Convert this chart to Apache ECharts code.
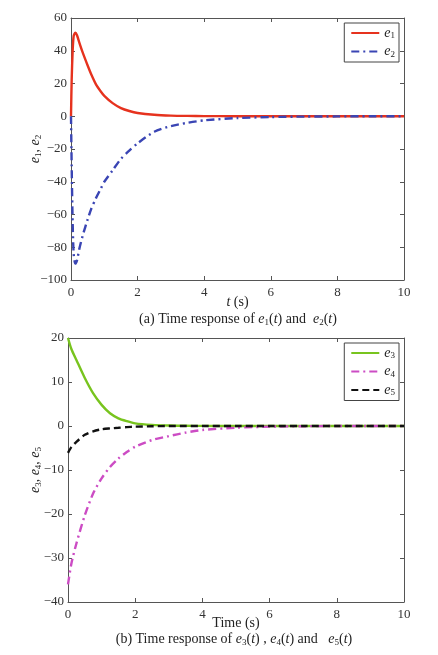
<!DOCTYPE html>
<html>
<head>
<meta charset="utf-8">
<script src="https://cdn.jsdelivr.net/npm/echarts@6/dist/echarts.min.js"></script>
<style>html,body{margin:0;padding:0;background:#fff}#c{width:438px;height:655px}</style>
</head>
<body>
<div id="c"></div>
<script>
// Panel (a)
const tA = [0, 0.02, 0.05, 0.08, 0.13, 0.18, 0.25, 0.35, 0.5, 0.6, 0.75, 0.9, 1, 1.25, 1.5, 1.75, 2, 2.5, 3, 3.5, 4, 5, 6, 7, 8, 9, 10];
const e1 = [0, 22, 40, 49, 51, 49.5, 45, 39, 31, 26, 19.5, 15, 12.5, 8, 5, 3.2, 2, 0.9, 0.4, 0.2, 0.1, 0.03, 0, 0, 0, 0, 0];
const e2 = [0, -30, -65, -84, -90, -88, -81, -73, -63, -57, -50, -44, -40, -33, -26, -21, -16.5, -9.5, -6, -4, -2.5, -1.1, -0.5, -0.2, -0.1, 0, 0];
// Panel (b)
const tB = [0, 0.1, 0.25, 0.5, 0.75, 1, 1.25, 1.5, 1.75, 2, 2.5, 3, 3.5, 4, 5, 6, 7, 8, 10];
const e3 = [20, 17.5, 15, 10.9, 7.4, 4.8, 2.9, 1.75, 1.1, 0.6, 0.25, 0.1, 0.05, 0.02, 0, 0, 0, 0, 0];
const e4 = [-36, -31.3, -26.7, -20.3, -15.3, -11.9, -9.3, -7.4, -5.9, -4.7, -3.2, -2.3, -1.5, -0.9, -0.4, -0.15, -0.05, 0, 0];
const e5 = [-6.1, -4.8, -3.6, -2, -1.2, -0.75, -0.55, -0.4, -0.25, -0.15, -0.05, 0, 0, 0, 0, 0, 0, 0, 0];
const names = ['e1', 'e2', 'e3', 'e4', 'e5'];

const FONT = 'Liberation Serif';
const AX = '#555';
const rich = {
  i: { fontFamily: FONT, fontStyle: 'italic', fontWeight: 'normal', fontSize: 14, color: '#222' },
  s: { fontFamily: FONT, fontWeight: 'normal', fontSize: 9, color: '#222', padding: [6, 0, 0, 0] },
  n: { fontFamily: FONT, fontWeight: 'normal', fontSize: 14, color: '#222' }
};
const pair = a => a[0].map((t, k) => [t, a[1][k]]);
const minus = v => String(v).replace('-', '\u2212');

function axesFor(g, xmax, ymin, ymax, yint, xname, yname, xgap, ygap) {
  const base = {
    gridIndex: g, type: 'value',
    axisLine: { show: true, onZero: false, lineStyle: { color: AX, width: 1 } },
    axisTick: { show: true, inside: true, length: 4, lineStyle: { color: AX } },
    splitLine: { show: false }
  };
  const xs = [
    Object.assign({}, base, { min: 0, max: xmax, interval: 2, position: 'bottom',
      axisLabel: { fontFamily: FONT, fontSize: 13, color: '#333', margin: 6 },
      name: xname, nameLocation: 'middle', nameGap: xgap, nameMoveOverlap: false,
      nameTextStyle: { rich: rich } }),
    Object.assign({}, base, { min: 0, max: xmax, interval: 2, position: 'top', axisLabel: { show: false } })
  ];
  const ys = [
    Object.assign({}, base, { min: ymin, max: ymax, interval: yint, position: 'left',
      axisLabel: { fontFamily: FONT, fontSize: 13, color: '#333', margin: 4, formatter: minus },
      name: yname, nameLocation: 'middle', nameRotate: 90, nameGap: ygap, nameMoveOverlap: false,
      nameTextStyle: { rich: rich } }),
    Object.assign({}, base, { min: ymin, max: ymax, interval: yint, position: 'right', axisLabel: { show: false } })
  ];
  return { xs, ys };
}
const A = axesFor(0, 10, -100, 60, 20, '{i|t}{n| (s)}', '{i|e}{s|1}{n|, }{i|e}{s|2}', 15, 28);
const B = axesFor(1, 10, -40, 20, 10, '{n|Time (s)}', '{i|e}{s|3}{n|, }{i|e}{s|4}{n|, }{i|e}{s|5}', 14, 25);

const legendBase = {
  orient: 'vertical', right: 39, borderColor: '#444', borderWidth: 1,
  padding: [3, 4, 3, 6], itemGap: 4, itemWidth: 28, itemHeight: 14,
  itemStyle: { opacity: 0 },
  formatter: n => '{i|e}{s|' + n.slice(1) + '}',
  textStyle: { rich: rich }, backgroundColor: '#fff'
};
const SM = 0.25;

const option = {
  animation: false,
  grid: [
    { left: 71, right: 34, top: 18, height: 262 },
    { left: 68, right: 34, top: 338, height: 264 }
  ],
  xAxis: [A.xs[0], A.xs[1], B.xs[0], B.xs[1]],
  yAxis: [A.ys[0], A.ys[1], B.ys[0], B.ys[1]],
  title: [
    { text: '{n|(a) Time response of }{i|e}{s|1}{n|(}{i|t}{n|) and  }{i|e}{s|2}{n|(}{i|t}{n|)}',
      left: 233, top: 307, textAlign: 'center', textStyle: { rich: rich, fontWeight: 'normal' } },
    { text: '{n|(b) Time response of }{i|e}{s|3}{n|(}{i|t}{n|) , }{i|e}{s|4}{n|(}{i|t}{n|) and   }{i|e}{s|5}{n|(}{i|t}{n|)}',
      left: 229, top: 627, textAlign: 'center', textStyle: { rich: rich, fontWeight: 'normal' } }
  ],
  legend: [
    Object.assign({}, legendBase, { top: 23, data: [names[0], names[1]] }),
    Object.assign({}, legendBase, { top: 343, data: [names[2], names[3], names[4]] })
  ],
  series: [
    { name: names[0], type: 'line', xAxisIndex: 0, yAxisIndex: 0, data: pair([tA, e1]), symbol: 'none',
      smooth: SM, lineStyle: { color: '#e6321e', width: 2.4 }, itemStyle: { color: '#e6321e' } },
    { name: names[1], type: 'line', xAxisIndex: 0, yAxisIndex: 0, data: pair([tA, e2]), symbol: 'none',
      smooth: SM, lineStyle: { color: '#3a45b4', width: 2.4, type: [8, 4, 2, 4] }, itemStyle: { color: '#3a45b4' } },
    { name: names[2], type: 'line', xAxisIndex: 2, yAxisIndex: 2, data: pair([tB, e3]), symbol: 'none',
      smooth: SM, lineStyle: { color: '#78c41e', width: 2.4 }, itemStyle: { color: '#78c41e' } },
    { name: names[3], type: 'line', xAxisIndex: 2, yAxisIndex: 2, data: pair([tB, e4]), symbol: 'none',
      smooth: SM, lineStyle: { color: '#cc4cc4', width: 2.4, type: [8, 4, 2, 4] }, itemStyle: { color: '#cc4cc4' } },
    { name: names[4], type: 'line', xAxisIndex: 2, yAxisIndex: 2, data: pair([tB, e5]), symbol: 'none',
      smooth: SM, lineStyle: { color: '#111', width: 2.4, type: [7, 4] }, itemStyle: { color: '#111' } }
  ]
};
const chart = echarts.init(document.getElementById('c'), null, { renderer: 'canvas' });
chart.setOption(option);
</script>
</body>
</html>
